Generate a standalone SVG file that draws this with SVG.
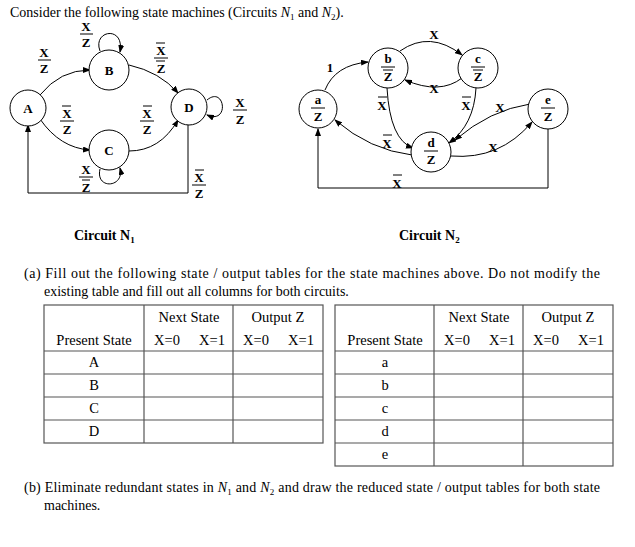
<svg xmlns="http://www.w3.org/2000/svg" width="635" height="547" viewBox="0 0 635 547" font-family="'Liberation Serif', 'Times New Roman', serif">
<defs>
<marker id="ar" markerWidth="8" markerHeight="6" refX="7" refY="3" orient="auto" markerUnits="userSpaceOnUse"><path d="M0,0 L8,3 L0,6 Z" fill="#000"/></marker>
<style>
text{fill:#000}
.t{font-size:14px}
.b{font-size:13px;font-weight:bold;text-anchor:middle}
.c{font-size:14.5px;text-anchor:middle}
circle{fill:#fff;stroke:#000;stroke-width:1}
.e{fill:none;stroke:#000;stroke-width:1;marker-end:url(#ar)}
.l{fill:none;stroke:#000;stroke-width:1}
.g{stroke:#555;stroke-width:1.2;fill:none}
</style>
</defs>
<rect width="635" height="547" fill="#fff"/>
<text class="t" x="10" y="17">Consider the following state machines (Circuits <tspan font-style="italic">N</tspan><tspan font-size="9" dy="3">1</tspan><tspan dy="-3"> and </tspan><tspan font-style="italic">N</tspan><tspan font-size="9" dy="3">2</tspan><tspan dy="-3">).</tspan></text>

<g id="connectors">
<path class="e" d="M40,95 Q60,70 90,70"/>
<path class="e" d="M40,119 Q60,148 90,150"/>
<path class="e" d="M129,65 Q160,72 178,93"/>
<path class="e" d="M129,151 Q160,151 178,120"/>
<path class="e" d="M100,51 C92,30 125,25 120,52"/>
<path class="e" d="M100,169 C95,190 125,188 120,168"/>
<path class="e" d="M207,100 C225,85 230,125 207,115"/>
<path class="e" d="M188,124 L188,193 L28,193 L28,125"/>
<path class="e" d="M325,90 Q335,65 368,62"/>
<path class="e" d="M400,51 Q430,30 462,55"/>
<path class="e" d="M462,78 Q440,95 405,80"/>
<path class="e" d="M387,88 Q390,140 413,148"/>
<path class="e" d="M476,88 Q474,125 449,143"/>
<path class="e" d="M412,155 Q370,150 335,120"/>
<path class="e" d="M451,156 Q500,160 532,122"/>
<path class="e" d="M530,104 Q490,110 455,140"/>
<path class="e" d="M548,128 L548,188 L318,188 L318,129"/>
</g>
<g id="labels">
<text class="b" x="44" y="57">X</text><line class="l" x1="38" y1="60" x2="51" y2="60"/><text class="b" x="44" y="73">Z</text>
<text class="b" x="86" y="31">X</text><line class="l" x1="80" y1="34" x2="93" y2="34"/><text class="b" x="86" y="47">Z</text>
<line class="l" x1="156" y1="43" x2="165" y2="43"/><text class="b" x="161" y="55">X</text><line class="l" x1="154" y1="58" x2="168" y2="58"/><line class="l" x1="156" y1="61" x2="165" y2="61"/><text class="b" x="161" y="73">Z</text>
<text class="b" x="240" y="107">X</text><line class="l" x1="233" y1="110" x2="247" y2="110"/><text class="b" x="240" y="124">Z</text>
<line class="l" x1="62" y1="106" x2="71" y2="106"/><text class="b" x="67" y="118">X</text><line class="l" x1="60" y1="121" x2="74" y2="121"/><text class="b" x="67" y="134">Z</text>
<line class="l" x1="143" y1="106" x2="152" y2="106"/><text class="b" x="147" y="118">X</text><line class="l" x1="140" y1="121" x2="154" y2="121"/><text class="b" x="147" y="134">Z</text>
<text class="b" x="86" y="174">X</text><line class="l" x1="79" y1="177" x2="93" y2="177"/><line class="l" x1="82" y1="180" x2="90" y2="180"/><text class="b" x="86" y="192">Z</text>
<line class="l" x1="195" y1="170" x2="204" y2="170"/><text class="b" x="199" y="182">X</text><line class="l" x1="192" y1="185" x2="206" y2="185"/><text class="b" x="199" y="198">Z</text>
<text class="b" x="330" y="72">1</text>
<text class="b" x="434" y="39">X</text>
<text class="b" x="434" y="93">X</text>
<line class="l" x1="378" y1="97" x2="387" y2="97"/><text class="b" x="382" y="110">X</text>
<line class="l" x1="462" y1="97" x2="471" y2="97"/><text class="b" x="466" y="110">X</text>
<text class="b" x="500" y="112">X</text>
<line class="l" x1="383" y1="135" x2="392" y2="135"/><text class="b" x="387" y="148">X</text>
<text class="b" x="493" y="152">X</text>
<line class="l" x1="393" y1="175" x2="402" y2="175"/><text class="b" x="397" y="188">X</text>
</g>

<g id="A"><circle cx="28" cy="108" r="18"/><text class="b" x="28" y="113">A</text></g>
<g id="B"><circle cx="109" cy="70" r="20"/><text class="b" x="109" y="75">B</text></g>
<g id="C"><circle cx="109" cy="150" r="20"/><text class="b" x="109" y="155">C</text></g>
<g id="D"><circle cx="189" cy="107" r="18"/><text class="b" x="189" y="112">D</text></g>

<g id="a"><circle cx="318" cy="109" r="19"/><text class="b" x="318" y="104">a</text><line class="l" x1="311" y1="108" x2="325" y2="108"/><text class="b" x="318" y="121">Z</text></g>
<g id="b"><circle cx="388" cy="68" r="20"/><text class="b" x="388" y="63">b</text><line class="l" x1="381" y1="67" x2="395" y2="67"/><line class="l" x1="383" y1="70" x2="393" y2="70"/><text class="b" x="388" y="81">Z</text></g>
<g id="c"><circle cx="478" cy="68" r="20"/><text class="b" x="478" y="63">c</text><line class="l" x1="471" y1="67" x2="485" y2="67"/><line class="l" x1="473" y1="70" x2="483" y2="70"/><text class="b" x="478" y="81">Z</text></g>
<g id="d"><circle cx="431" cy="152" r="20"/><text class="b" x="431" y="147">d</text><line class="l" x1="424" y1="151" x2="438" y2="151"/><text class="b" x="431" y="164">Z</text></g>
<g id="e"><circle cx="548" cy="109" r="20"/><text class="b" x="548" y="104">e</text><line class="l" x1="541" y1="108" x2="555" y2="108"/><text class="b" x="548" y="121">Z</text></g>

<text x="74" y="240" font-size="14" font-weight="bold">Circuit N<tspan font-size="9" dy="3">1</tspan></text>
<text x="399" y="240" font-size="14" font-weight="bold">Circuit N<tspan font-size="9" dy="3">2</tspan></text>

<text class="t" x="24" y="278" textLength="576" lengthAdjust="spacing">(a) Fill out the following state / output tables for the state machines above. Do not modify the</text>
<text class="t" x="44" y="296">existing table and fill out all columns for both circuits.</text>

<g id="table1">
<rect class="g" x="44" y="305" width="279" height="138"/>
<line class="g" x1="144" y1="305" x2="144" y2="443"/>
<line class="g" x1="233" y1="305" x2="233" y2="443"/>
<line class="g" x1="44" y1="351" x2="323" y2="351"/>
<line class="g" x1="44" y1="374" x2="323" y2="374"/>
<line class="g" x1="44" y1="397" x2="323" y2="397"/>
<line class="g" x1="44" y1="420" x2="323" y2="420"/>
<text class="c" x="189" y="322">Next State</text><text class="c" x="278" y="322">Output Z</text>
<text class="c" x="94" y="345">Present State</text>
<text class="c" x="167" y="345">X=0</text><text class="c" x="212" y="345">X=1</text>
<text class="c" x="256" y="345">X=0</text><text class="c" x="301" y="345">X=1</text>
<text class="c" x="94" y="367">A</text><text class="c" x="94" y="390">B</text><text class="c" x="94" y="413">C</text><text class="c" x="94" y="436">D</text>
</g>
<g id="table2">
<rect class="g" x="335" y="305" width="278" height="161"/>
<line class="g" x1="434" y1="305" x2="434" y2="466"/>
<line class="g" x1="523" y1="305" x2="523" y2="466"/>
<line class="g" x1="335" y1="351" x2="613" y2="351"/>
<line class="g" x1="335" y1="374" x2="613" y2="374"/>
<line class="g" x1="335" y1="397" x2="613" y2="397"/>
<line class="g" x1="335" y1="420" x2="613" y2="420"/>
<line class="g" x1="335" y1="443" x2="613" y2="443"/>
<text class="c" x="479" y="322">Next State</text><text class="c" x="568" y="322">Output Z</text>
<text class="c" x="385" y="345">Present State</text>
<text class="c" x="457" y="345">X=0</text><text class="c" x="502" y="345">X=1</text>
<text class="c" x="546" y="345">X=0</text><text class="c" x="591" y="345">X=1</text>
<text class="c" x="385" y="367">a</text><text class="c" x="385" y="390">b</text><text class="c" x="385" y="413">c</text><text class="c" x="385" y="436">d</text><text class="c" x="385" y="459">e</text>
</g>

<text class="t" x="24" y="492" textLength="576" lengthAdjust="spacing">(b) Eliminate redundant states in <tspan font-style="italic">N</tspan><tspan font-size="9" dy="3">1</tspan><tspan dy="-3"> and </tspan><tspan font-style="italic">N</tspan><tspan font-size="9" dy="3">2</tspan><tspan dy="-3"> and draw the reduced state / output tables for both state</tspan></text>
<text class="t" x="44" y="510">machines.</text>
</svg>
